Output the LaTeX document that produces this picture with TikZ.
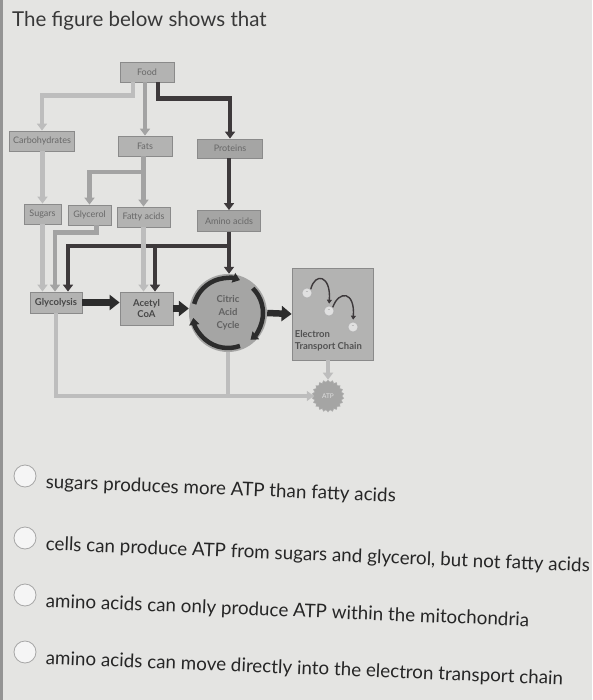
\documentclass[tikz,border=0pt]{standalone}
\usepackage{fontspec}
\setmainfont{Lato}
\usetikzlibrary{arrows.meta,shapes.geometric}
\definecolor{paper}{HTML}{E4E4E2}
\definecolor{boxgray}{HTML}{B3B3B2}
\definecolor{boxdark}{HTML}{A5A5A4}
\definecolor{rimgray}{HTML}{8A8A8A}
\definecolor{labgray}{HTML}{686868}
\definecolor{lightflow}{HTML}{BDBDBD}
\definecolor{midflow}{HTML}{A3A3A3}
\definecolor{darkflow}{HTML}{3D393B}
\definecolor{inkgray}{HTML}{2C2C2C}

\begin{document}
\begin{tikzpicture}[x=1pt,y=-1pt,>={Triangle[width=10pt,length=7pt]},
    part box/.style={rectangle,draw=rimgray,fill=boxgray,line width=0.8pt,inner sep=0pt,font=\fontsize{9}{10}\selectfont,text=labgray},
    stage box/.style={part box,font=\fontsize{9.5}{11}\selectfont\bfseries,text=black!72,align=center},
    lite/.style={->,line width=4.5pt,draw=lightflow},
    mid/.style={->,line width=4.5pt,draw=midflow},
    dark/.style={->,line width=4.5pt,draw=darkflow},
    main/.style={-{Triangle[width=15pt,length=10pt]},line width=6.5pt,draw=inkgray},
    cyc/.style={-{Triangle[width=10pt,length=7pt]},line width=4.5pt,draw=inkgray},
    electron/.style={circle,fill=black!12,draw=black!30,line width=0.6pt,minimum size=10pt,inner sep=0pt,font=\fontsize{5}{5}\selectfont,text=black!55},
    hop/.style={->,>={Triangle[width=5pt,length=4pt]},line width=1.4pt,draw=darkflow,shorten >=2pt},
    radio/.style={circle,draw=black!35,fill=black!4,line width=0.8pt,minimum size=22pt,inner sep=0pt},
    answer/.style={anchor=base west,rotate=-2.3,inner sep=0pt,font=\fontsize{18.8}{21}\selectfont,text=black!85}]

  \useasboundingbox (0,0) rectangle (592,700);
  \fill[paper] (0,0) rectangle (592,700);
  \fill[black!42] (0,0) rectangle (3,700);

  \node[anchor=base west,inner sep=0pt,font=\fontsize{20.5}{24}\selectfont,text=black!78] (title) at (12,27) {The figure below shows that};

  % food groups
  \node[part box,minimum width=54pt,minimum height=20pt]              (food)     at (147,72)    {Food};
  \node[part box,minimum width=65pt,minimum height=20pt]              (carbs)    at (42,141)    {Carbohydrates};
  \node[part box,minimum width=54pt,minimum height=20pt]              (fats)     at (145,146)   {Fats};
  \node[part box,fill=boxdark,minimum width=65pt,minimum height=19pt] (proteins) at (230,148.5) {Proteins};
  \node[part box,minimum width=37pt,minimum height=20pt]              (sugars)   at (42.5,214)  {Sugars};
  \node[part box,minimum width=43pt,minimum height=20pt]              (glycerol) at (89.5,215)  {Glycerol};
  \node[part box,minimum width=53pt,minimum height=20pt]              (fatty)    at (143.5,217) {Fatty acids};
  \node[part box,fill=boxdark,minimum width=63pt,minimum height=21pt] (amino)    at (229,221)   {Amino acids};

  % stages
  \node[stage box,minimum width=52pt,minimum height=21pt] (glyco)  at (56,302.5)  {Glycolysis};
  \node[stage box,minimum width=53pt,minimum height=33pt] (acetyl) at (146.5,308.5) {Acetyl\\CoA};
  \node[circle,fill=boxdark,minimum size=78pt,inner sep=0pt,align=center,font=\fontsize{9.5}{13}\selectfont\bfseries,text=black!62] (cycle) at (228,313) {Citric\\Acid\\Cycle};
  \node[part box,minimum width=81pt,minimum height=92pt] (etc) at (332.5,314) {};
  \node[anchor=south west,align=left,inner sep=0pt,font=\fontsize{9.5}{12}\selectfont\bfseries,text=black!68] (etclabel) at ([shift={(3pt,9pt)}]etc.south west) {Electron\\Transport Chain};
  \node[star,star points=22,star point ratio=1.15,fill=boxdark,draw=black!30,minimum size=32pt,inner sep=0pt,font=\fontsize{6.5}{7}\selectfont,text=black!12] (atp) at (328,396) {ATP};

  \node[electron] (e1) at (307,293) {--};
  \node[electron] (e2) at (329,311) {--};
  \node[electron] (e3) at (353,327) {--};
  \draw[hop] (e1.north east) .. controls (315,272) and (331,275) .. (e2.north);
  \draw[hop] (e2.north east) .. controls (339,290) and (355,291) .. (e3.north);

  % food to groups
  \draw[lite] ([xshift=-14pt]food.south) -- ++(0,13) -| (carbs.north);
  \draw[mid]  (fats.north |- food.south) -- (fats.north);
  \draw[dark] ([xshift=11pt]food.south) -- ++(0,16) -| (proteins.north);
  \draw[lite] (sugars.north |- carbs.south) -- (sugars.north);
  \coordinate (fork) at (143.5,172);
  \draw[mid]  (fatty.north |- fats.south) -- (fatty.north);
  \draw[mid]  (fork) -| (glycerol.north);
  \draw[dark] (amino.north |- proteins.south) -- (amino.north);

  % groups to stages
  \draw[dark] (amino.south) -- ++(0,14) -| ([xshift=12pt]glyco.north);
  \coordinate (split) at (155,245);
  \draw[dark] (split) -- (split |- acetyl.north);
  \draw[dark] (amino.south) -- (amino.south |- cycle.north);
  \draw[lite] (sugars.south) -- (sugars.south |- glyco.north);
  \draw[mid]  ([xshift=7pt]glycerol.south) -- ++(0,7) -| ([xshift=-1pt]glyco.north);
  \draw[lite] (fatty.south) -- (fatty.south |- acetyl.north);

  % main chain
  \draw[main] (glyco.east) -- (glyco.east -| acetyl.west);
  \draw[main] (acetyl.east) -- (cycle.west |- acetyl.east);
  \draw[main] (cycle.east) -- (etc.west);
  \foreach \a/\b in {165/70, 45/-50, -70/-172}
    \draw[cyc] ([shift={(\a:35pt)}]cycle.center) arc[start angle=\a,end angle=\b,radius=35pt];

  % to ATP
  \draw[lite] (glyco.south) |- (atp.west);
  \draw[lite,-] (cycle.south) -- (cycle.south |- atp.west);
  \draw[lite] (atp.north |- etc.south) -- (atp.north);

  % answers
  \foreach \y/\txt [count=\i] in {476/sugars produces more ATP than fatty acids,
      538/{cells can produce ATP from sugars and glycerol, but not fatty acids},
      595/amino acids can only produce ATP within the mitochondria,
      652/amino acids can move directly into the electron transport chain} {
    \node[radio] (radio\i) at (25,\y) {};
    \node[answer] (answer\i) at ([shift={(9pt,-12pt)}]radio\i.east) {\txt};
  }
\end{tikzpicture}
\end{document}
